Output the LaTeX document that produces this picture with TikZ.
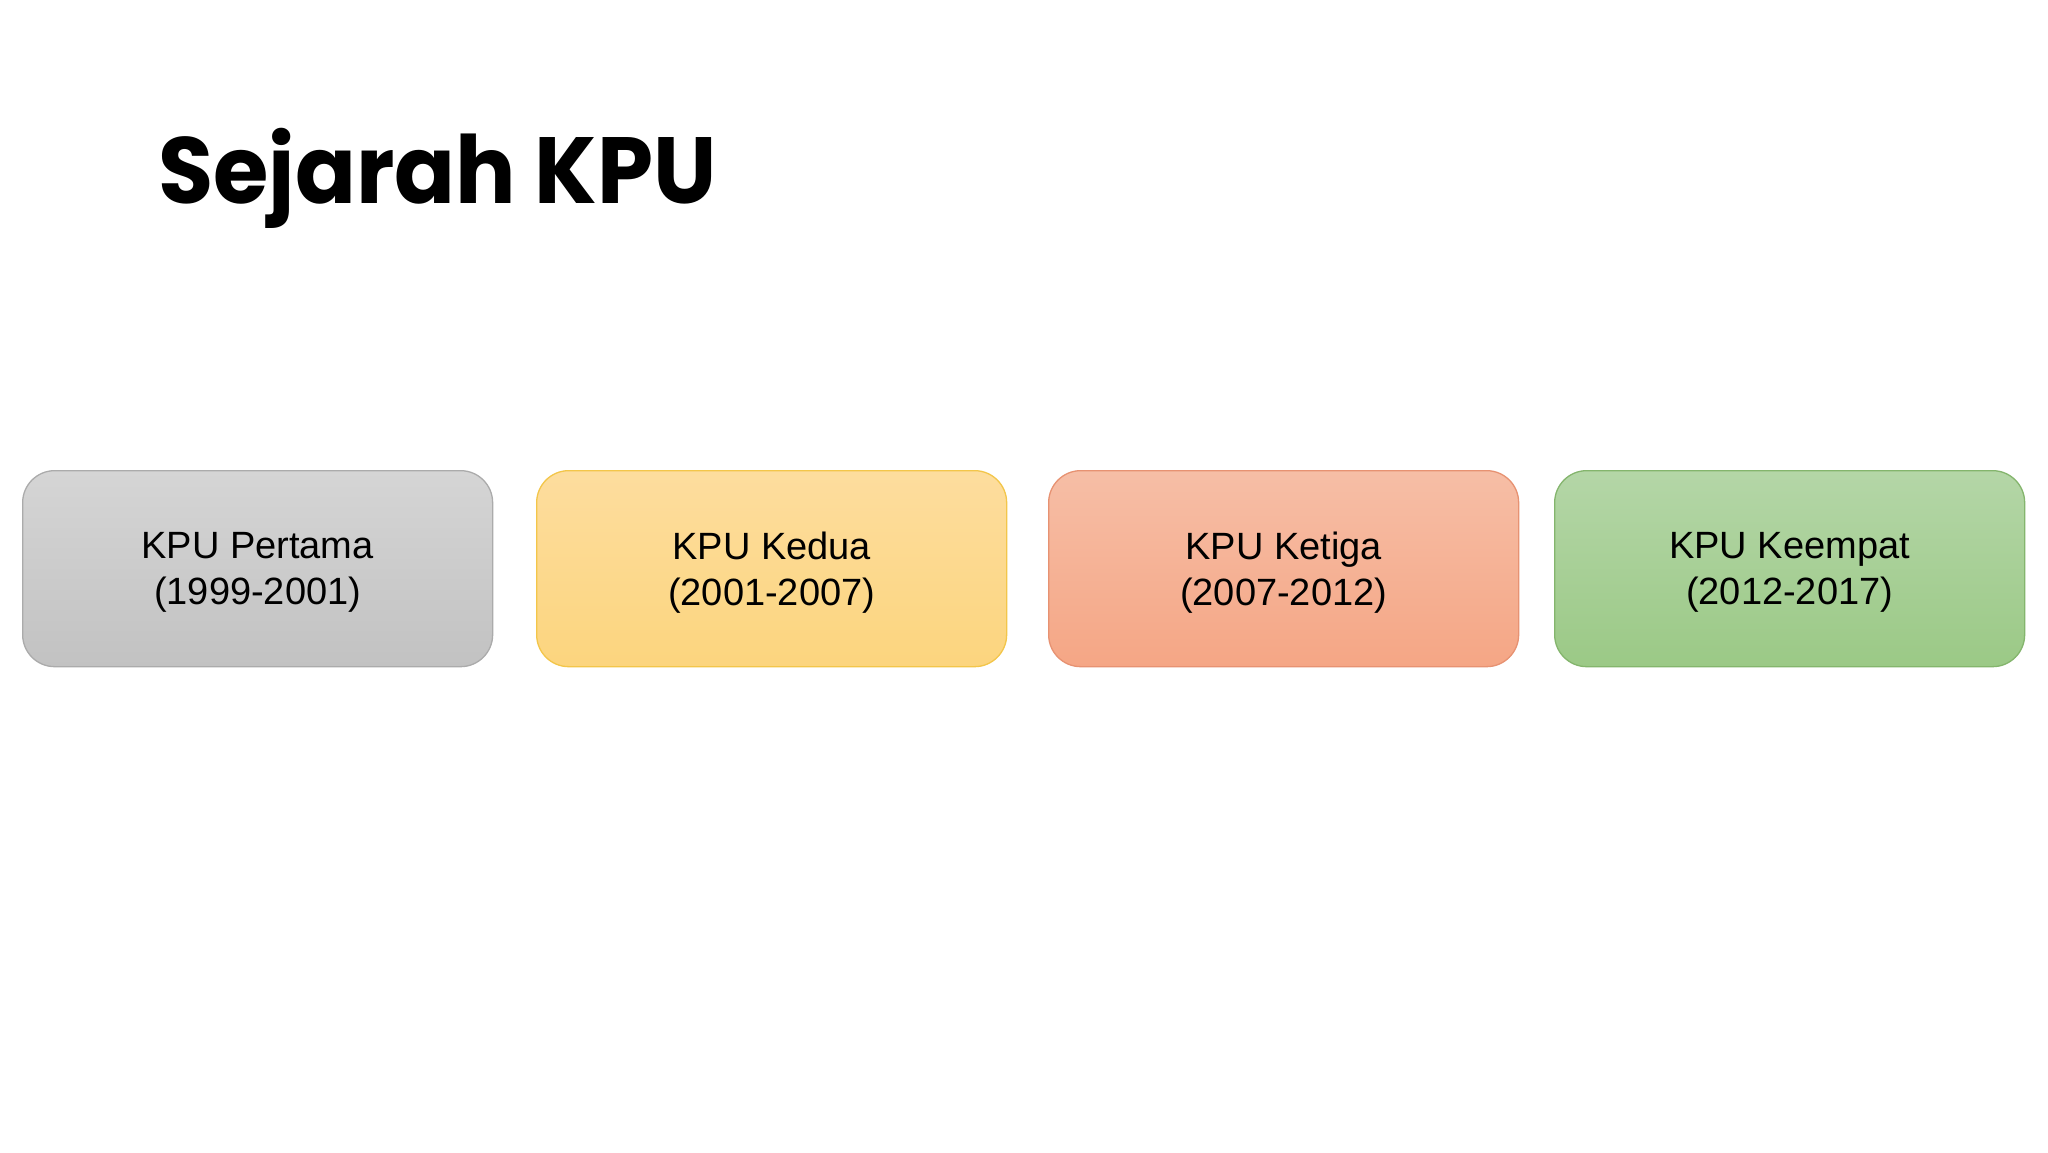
\documentclass[tikz,border=0pt]{standalone}
\usepackage{fontspec}
\setmainfont{Liberation Sans}
\newfontfamily\titlefont{Poppins}
\usetikzlibrary{shadings}
\definecolor{grayT}{HTML}{D5D5D5}\definecolor{grayB}{HTML}{C2C2C2}\definecolor{grayD}{HTML}{ABABAB}
\definecolor{yelT}{HTML}{FDDD9E}\definecolor{yelB}{HTML}{FCD57E}\definecolor{yelD}{HTML}{F3C64A}
\definecolor{redT}{HTML}{F6BEA6}\definecolor{redB}{HTML}{F5A685}\definecolor{redD}{HTML}{E79272}
\definecolor{grnT}{HTML}{B4D6A7}\definecolor{grnB}{HTML}{9BC986}\definecolor{grnD}{HTML}{84B56D}
\tikzset{
  period/.style={draw, line width=1.3pt, rounded corners=32pt, minimum width=470pt, minimum height=196pt,
    inner sep=0pt, align=center, font=\fontsize{38}{46}\selectfont, text=black, anchor=north west,
    text depth=-10pt},
}
\begin{document}
\begin{tikzpicture}[x=1pt,y=-1pt]
\useasboundingbox[fill=white] (0,0) rectangle (2048,1152);
\node[anchor=base west, inner sep=0pt, xscale=0.955, font=\titlefont\bfseries\fontsize{94}{100}\selectfont] (title) at (158,203) {Sejarah KPU};
\node[period, draw=grayD, top color=grayT, bottom color=grayB] (k1) at (22,470) {KPU Pertama\\(1999-2001)};
\node[period, draw=yelD, top color=yelT, bottom color=yelB] (k2) at (536,470) {KPU Kedua\\(2001-2007)};
\node[period, draw=redD, top color=redT, bottom color=redB] (k3) at (1048,470) {KPU Ketiga\\(2007-2012)};
\node[period, draw=grnD, top color=grnT, bottom color=grnB] (k4) at (1554,470) {KPU Keempat\\(2012-2017)};
\end{tikzpicture}
\end{document}
